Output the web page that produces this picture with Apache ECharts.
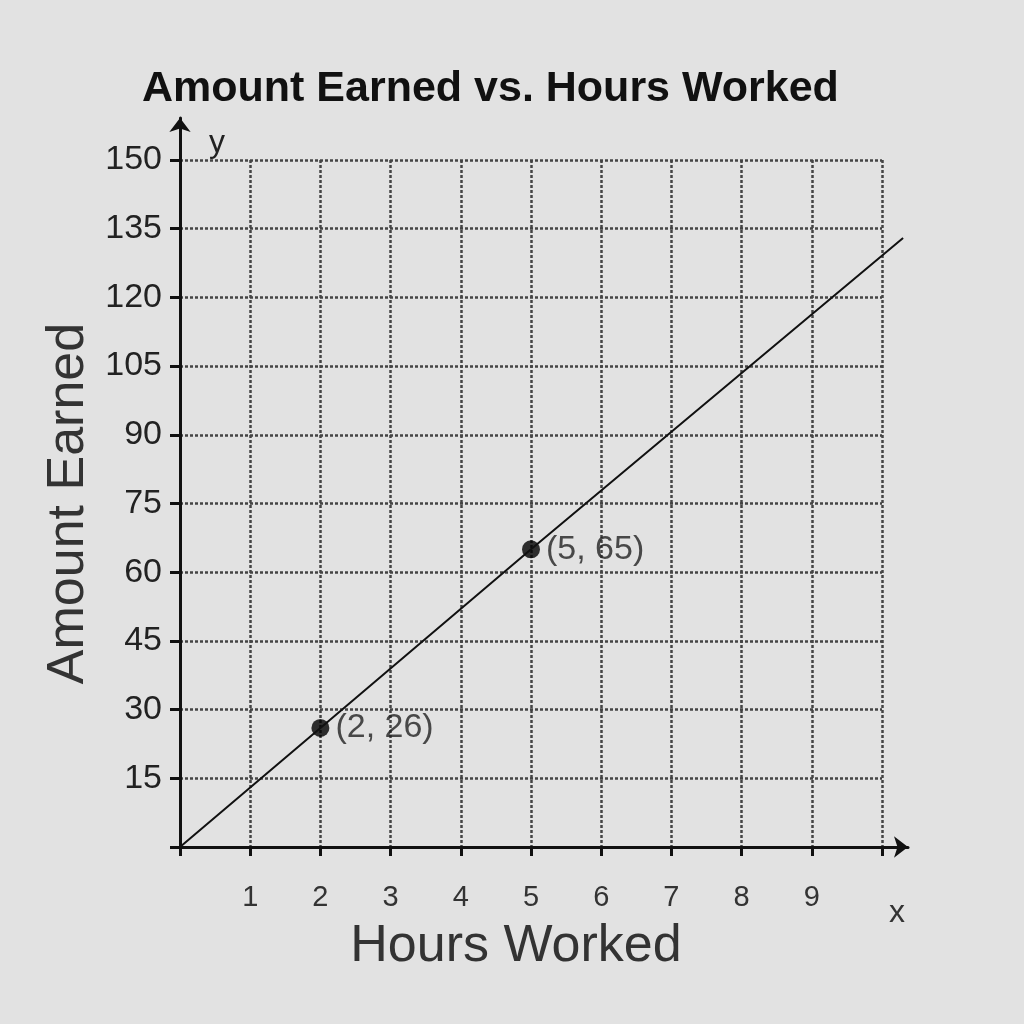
<!DOCTYPE html>
<html>
<head>
  <meta charset="utf-8">
  <script src="https://cdn.jsdelivr.net/npm/echarts@6/dist/echarts.min.js"></script>
  <style>
    html, body { margin: 0; padding: 0; background: #e2e2e2; }
    #main { width: 1024px; height: 1024px; }
  </style>
</head>
<body>
  <div id="main"></div>
  <script type="text/javascript">
    // data
    var hours = [0, 2, 5, 10.3];
    var earned = [0, 26, 65, 133];
    var markedHours = [2, 5];
    var markedEarned = [26, 65];
    var xTicks = [1, 2, 3, 4, 5, 6, 7, 8, 9];
    var yTicks = [15, 30, 45, 60, 75, 90, 105, 120, 135, 150];

    var lineData = hours.map(function (h, i) { return [h, earned[i]]; });
    var pointData = markedHours.map(function (h, i) { return [h, markedEarned[i]]; });

    var myChart = echarts.init(document.getElementById('main'));
    var font = 'Liberation Sans, Arial, sans-serif';
    var gridLine = { show: true, lineStyle: { color: '#444', width: 2.5, type: [3, 2] } };

    // the arrow axes sit in a slightly bigger grid (same origin, same scale)
    var option = {
      backgroundColor: '#e2e2e2',
      title: [{
        text: 'Amount Earned vs. Hours Worked',
        left: 137,
        top: 63,
        textStyle: { fontFamily: font, fontSize: 43, fontWeight: 'bold', color: '#111' }
      }, {
        text: 'y',
        left: 204,
        top: 122,
        textStyle: { fontFamily: font, fontSize: 32, fontWeight: 'normal', color: '#222' }
      }, {
        text: 'x',
        left: 884,
        top: 892,
        textStyle: { fontFamily: font, fontSize: 32, fontWeight: 'normal', color: '#333' }
      }],
      grid: [
        { left: 180, right: 142, top: 160, bottom: 177 },
        { left: 180, right: 116, top: 118, bottom: 177 }
      ],
      xAxis: [{
        gridIndex: 0,
        type: 'value',
        min: 0,
        max: 10,
        interval: 1,
        name: 'Hours Worked',
        nameLocation: 'middle',
        nameGap: 74,
        nameTextStyle: { fontFamily: font, fontSize: 52, color: '#333', padding: [0, 30, 0, 0] },
        axisLine: { show: false },
        axisTick: { show: true, length: 9, lineStyle: { color: '#111', width: 3 } },
        axisLabel: {
          fontFamily: font, fontSize: 29, color: '#333', margin: 36,
          formatter: function (v) { return xTicks.indexOf(v) >= 0 ? String(v) : ''; }
        },
        splitLine: gridLine
      }, {
        gridIndex: 1,
        type: 'value',
        min: 0,
        max: 10.37,
        axisLine: { show: true, symbol: ['none', 'arrow'], symbolSize: [16, 14], lineStyle: { color: '#111', width: 3 } },
        axisTick: { show: false },
        axisLabel: { show: false },
        splitLine: { show: false }
      }],
      yAxis: [{
        gridIndex: 0,
        type: 'value',
        min: 0,
        max: 150,
        interval: 15,
        name: 'Amount Earned',
        nameLocation: 'middle',
        nameGap: 76,
        nameTextStyle: { fontFamily: font, fontSize: 52, color: '#333' },
        axisLine: { show: false },
        axisTick: { show: true, length: 10, lineStyle: { color: '#111', width: 3 } },
        axisLabel: {
          fontFamily: font, fontSize: 34, color: '#222', margin: 18,
          formatter: function (v) { return yTicks.indexOf(v) >= 0 ? String(v) : ''; }
        },
        splitLine: gridLine
      }, {
        gridIndex: 1,
        type: 'value',
        min: 0,
        max: 159.2,
        axisLine: { show: true, symbol: ['none', 'arrow'], symbolSize: [16, 14], lineStyle: { color: '#111', width: 3 } },
        axisTick: { show: false },
        axisLabel: { show: false },
        splitLine: { show: false }
      }],
      series: [{
        type: 'line',
        xAxisIndex: 1,
        yAxisIndex: 1,
        data: lineData,
        showSymbol: false,
        silent: true,
        lineStyle: { color: '#111', width: 2 }
      }, {
        type: 'scatter',
        xAxisIndex: 0,
        yAxisIndex: 0,
        data: pointData,
        symbolSize: 18,
        itemStyle: { color: '#000' },
        label: {
          show: true,
          position: 'right',
          distance: 6,
          fontFamily: font,
          fontSize: 34,
          color: '#222',
          formatter: function (p) { return '(' + p.value[0] + ', ' + p.value[1] + ')'; }
        }
      }]
    };
    myChart.setOption(option);
  </script>
</body>
</html>
